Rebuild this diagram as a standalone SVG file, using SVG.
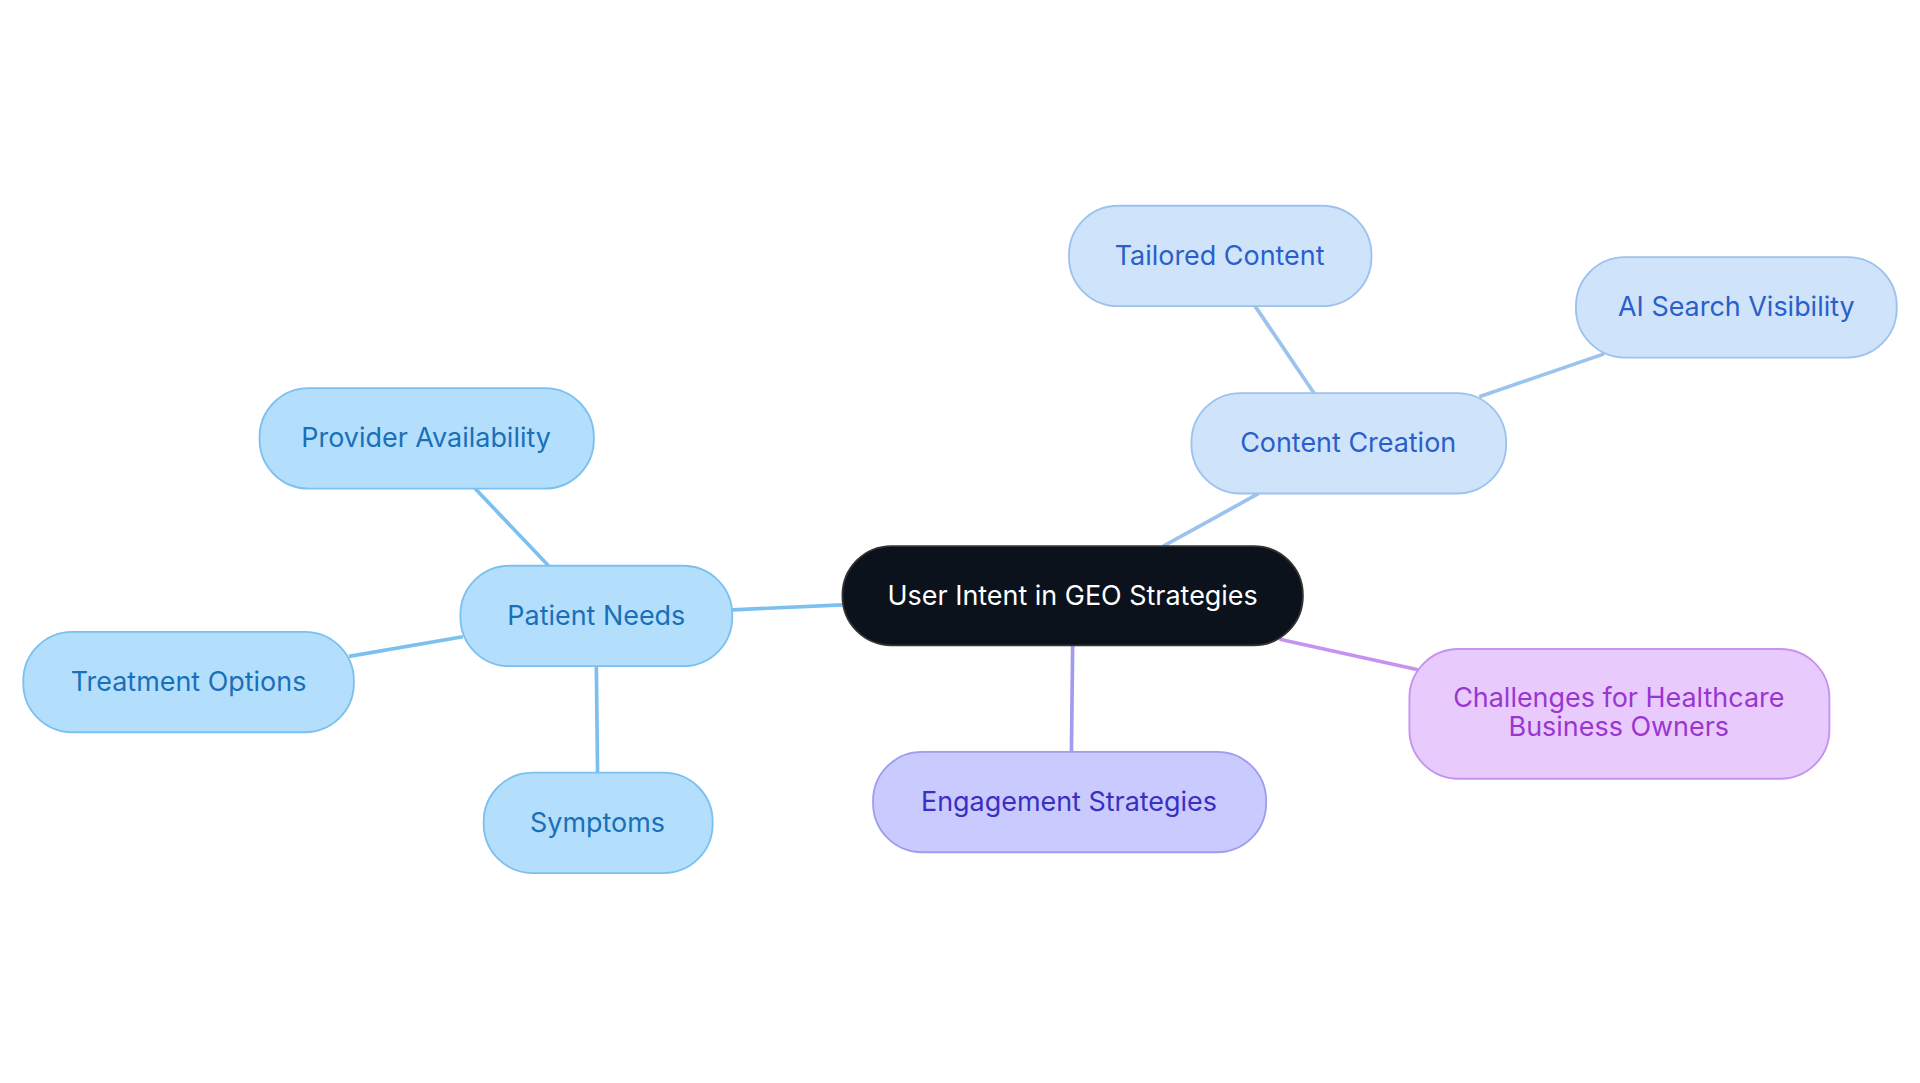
<svg xmlns="http://www.w3.org/2000/svg" width="1920" height="1083" viewBox="0 0 1920 1083">
<style>
text{font-family:Inter,"Noto Sans",sans-serif;font-size:22px;text-anchor:middle;dominant-baseline:central}
.b rect{fill:#b3dffd;stroke:#7cc0ef;stroke-width:1.5}.b text{fill:#1a6fb8}
.c rect{fill:#cfe3fb;stroke:#9cc2ee;stroke-width:1.5}.c text{fill:#2a5fc9}
.e rect{fill:#c9cafd;stroke:#a09cef;stroke-width:1.5}.e text{fill:#3a2fc2}
.h rect{fill:#e8cafd;stroke:#c592ef;stroke-width:1.5}.h text{fill:#9a36d0}
#edges line{stroke-width:3;fill:none}
</style>
<rect width="1920" height="1083" fill="#fff"/>
<g transform="scale(1.2245)">
<g id="edges">
<line x1="598" y1="498" x2="688" y2="494" stroke="#7cc0ef"/>
<line x1="448" y1="462" x2="388" y2="399" stroke="#7cc0ef"/>
<line x1="378" y1="520" x2="285" y2="536" stroke="#7cc0ef"/>
<line x1="487" y1="544" x2="488" y2="631" stroke="#7cc0ef"/>
<line x1="950" y1="446" x2="1028" y2="403" stroke="#9cc2ee"/>
<line x1="1073" y1="321" x2="1025" y2="250" stroke="#9cc2ee"/>
<line x1="1208" y1="324" x2="1310" y2="289" stroke="#9cc2ee"/>
<line x1="876" y1="527" x2="875" y2="614" stroke="#a09cef"/>
<line x1="1045" y1="522" x2="1158" y2="547" stroke="#c592ef"/>
</g>
<g id="center"><rect x="688" y="446" width="376" height="81" rx="40" fill="#0b121c" stroke="#333" stroke-width="1.5"/><text x="876" y="486" fill="#fff">User Intent in GEO Strategies</text></g>
<g id="patient" class="b"><rect x="376" y="462" width="222" height="82" rx="40"/><text x="487" y="502">Patient Needs</text></g>
<g id="provider" class="b"><rect x="212" y="317" width="273" height="82" rx="40"/><text x="348" y="357">Provider Availability</text></g>
<g id="treatment" class="b"><rect x="19" y="516" width="270" height="82" rx="40"/><text x="154" y="556">Treatment Options</text></g>
<g id="symptoms" class="b"><rect x="395" y="631" width="187" height="82" rx="40"/><text x="488" y="671">Symptoms</text></g>
<g id="content" class="c"><rect x="973" y="321" width="257" height="82" rx="40"/><text x="1101" y="361">Content Creation</text></g>
<g id="tailored" class="c"><rect x="873" y="168" width="247" height="82" rx="40"/><text x="996" y="208">Tailored Content</text></g>
<g id="ai" class="c"><rect x="1287" y="210" width="262" height="82" rx="40"/><text x="1418" y="250">AI Search Visibility</text></g>
<g id="engagement" class="e"><rect x="713" y="614" width="321" height="82" rx="40"/><text x="873" y="654">Engagement Strategies</text></g>
<g id="challenges" class="h"><rect x="1151" y="530" width="343" height="106" rx="40"/><text x="1322" y="569">Challenges for Healthcare</text><text x="1322" y="593">Business Owners</text></g>
</g>
</svg>
